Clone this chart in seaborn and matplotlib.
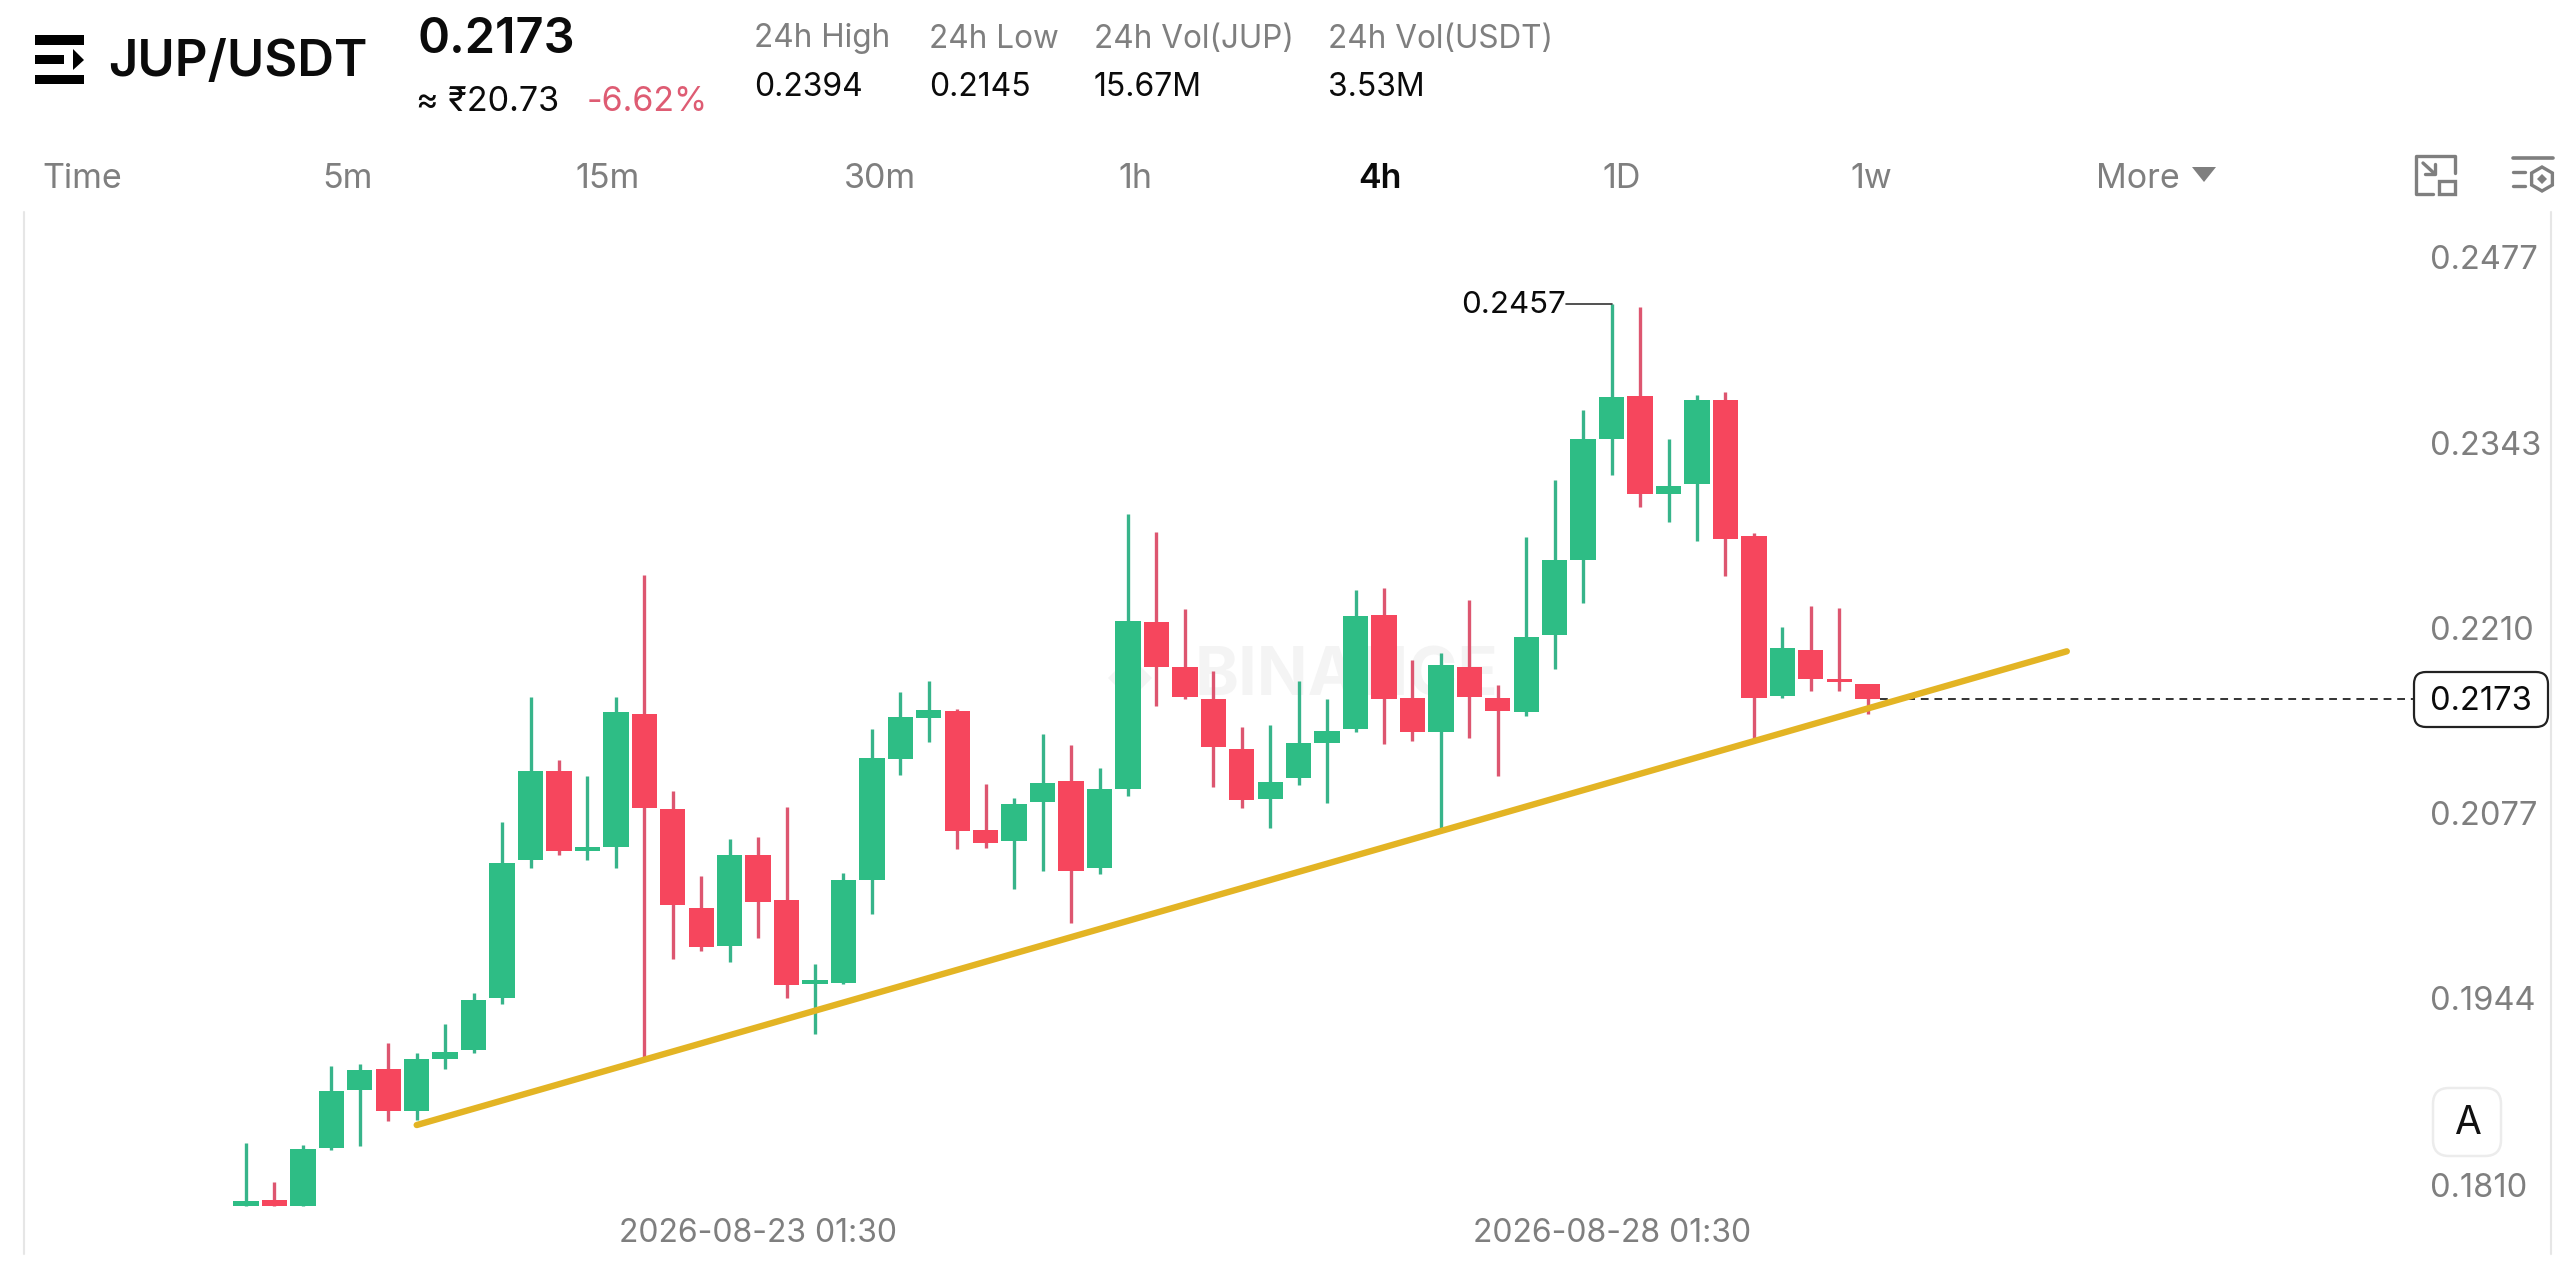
import matplotlib
matplotlib.use("Agg")
import matplotlib.pyplot as plt
from matplotlib.patches import FancyBboxPatch, Rectangle, Polygon, RegularPolygon
import numpy as np
import pandas as pd
import seaborn as sns

opens = [.18087,.18128,.18087,.18504,.18917,.19074,.18767,.19146,.19210,.19580,.20576,.21215,.20637,.20668,.21627,.20944,.20231,.19954,.20612,.20289,.19680,.19691,.20427,.21303,.21596,.21643,.20789,.20711,.20991,.21140,.20520,.21085,.22288,.21964,.21732,.21370,.21013,.21165,.21417,.21516,.22338,.21740,.21497,.21964,.21740,.21641,.22192,.22734,.23600,.23909,.23210,.23279,.23879,.22905,.21752,.22087,.21879,.21840]
highs = [.18538,.18258,.18521,.19094,.19105,.19257,.19185,.19395,.19616,.20845,.21749,.21295,.21176,.21749,.22623,.21074,.20460,.20723,.20742,.20955,.19829,.20482,.21519,.21784,.21865,.21663,.21121,.21021,.21483,.21400,.21239,.23060,.22930,.22376,.21931,.21530,.21544,.21862,.21732,.22517,.22528,.22014,.22064,.22445,.21834,.22894,.23306,.23810,.2457,.24554,.23605,.23918,.23937,.22925,.22250,.22399,.22388,.21840]
lows = [.18087,.18087,.18087,.18485,.18516,.18695,.18704,.19069,.19188,.19539,.20515,.20607,.20576,.20515,.19160,.19863,.19921,.19843,.20012,.19583,.19320,.19680,.20183,.21184,.21425,.20650,.20659,.20368,.20498,.20119,.20471,.21032,.21682,.21735,.21101,.20949,.20802,.21115,.20982,.21494,.21405,.21433,.20802,.21455,.21176,.21611,.21951,.22424,.23340,.23116,.23008,.22867,.22615,.21448,.21738,.21791,.21791,.21622]
closes = [.18120,.18087,.18493,.18914,.19063,.18767,.19143,.19196,.19567,.20551,.21215,.20637,.20665,.21638,.20950,.20247,.19951,.20612,.20275,.19672,.19708,.20432,.21306,.21602,.21654,.20783,.20700,.20979,.21129,.20498,.21087,.22296,.21959,.21746,.21386,.21004,.21137,.21419,.21500,.22327,.21735,.21497,.21975,.21748,.21646,.22181,.22734,.23600,.23901,.23210,.23265,.23879,.22886,.21741,.22098,.21874,.21851,.2173]
trend_index = [6, 64]
trend_price = [.18668, .22075]
axis_ticks = [0.2477, 0.2343, 0.2210, 0.2077, 0.1944, 0.1810]
axis_labels = ["0.2477", "0.2343", "0.2210", "0.2077", "0.1944", "0.1810"]
last_price = 0.2173
peak_price = 0.2457
peak_index = 48
date_labels = ["2026-08-23 01:30", "2026-08-28 01:30"]
date_index = [18, 48]
intervals = ["Time", "5m", "15m", "30m", "1h", "4h", "1D", "1w", "More"]
stats_head = ["24h High", "24h Low", "24h Vol(JUP)", "24h Vol(USDT)"]
stats_vals = ["0.2394", "0.2145", "15.67M", "3.53M"]

GREEN, RED, GOLD = "#2EBD85", "#F6465D", "#E3B424"
GREY, DARK = "#7f7f7f", "#0b0b0b"
W, H = 2560, 1284

sns.set_theme(style="white")
plt.rcParams["font.family"] = ["Inter", "Noto Sans", "DejaVu Sans"]

fig = plt.figure(figsize=(W / 100, H / 100), dpi=100, facecolor="white")
ov = fig.add_axes([0, 0, 1, 1], zorder=0)
ov.set_xlim(0, W); ov.set_ylim(H, 0); ov.axis("off")

L, T, B = 24, 212, 1254
ax = fig.add_axes([L / W, 1 - B / H, (W - L) / W, (B - T) / H], zorder=1)
ax.patch.set_alpha(0)

df = pd.DataFrame({"idx": np.arange(len(opens)), "o": opens, "h": highs, "l": lows, "c": closes})
df["up"] = df.c >= df.o
df["base"] = df[["o", "c"]].min(axis=1)
df["size"] = (df.c - df.o).abs()

ax.vlines(df.idx[df.up], df.l[df.up], df.h[df.up], color="#37B48A", lw=2.4, zorder=2)
ax.vlines(df.idx[~df.up], df.l[~df.up], df.h[~df.up], color="#DD5670", lw=2.4, zorder=2)
for flag, col in ((True, GREEN), (False, RED)):
    sub = df[df.up == flag]
    sns.barplot(data=sub, x="idx", y="size", bottom=sub["base"].to_numpy(), native_scale=True,
                color=col, saturation=1, width=0.89, errorbar=None, ax=ax, zorder=3, linewidth=0)

px_per_idx, x0_px = 28.45, 246
ax.set_xlim((L - x0_px) / px_per_idx, (W - x0_px) / px_per_idx)
v_per_px = 7.192e-5
ax.set_ylim(0.2477 - (B - 276.6) * v_per_px, 0.2477 - (T - 276.6) * v_per_px)
ax.axis("off")

sns.lineplot(x=trend_index, y=trend_price, color=GOLD, lw=4.6, ax=ax, zorder=5,
             solid_capstyle="round", legend=False, errorbar=None)

ax.plot([57.45, (2414 - x0_px) / px_per_idx], [last_price, last_price], color="#333333",
        lw=1.4, dashes=(4, 3), zorder=4)

def px_y(v):
    return 276.6 + (0.2477 - v) / v_per_px

def txt(x, y, s, size, color=DARK, weight="normal", ha="left", **kw):
    ov.text(x, y, s, fontsize=size, color=color, weight=weight, ha=ha, va="center", **kw)

# watermark
txt(1195, 678, "BINANCE", 48, color="#f4f4f4", weight="bold")
ov.add_patch(Polygon([(1108, 678), (1130, 656), (1152, 678), (1130, 700)], closed=True, fc="#f4f4f4", ec="none"))

# logo
ov.add_patch(Rectangle((35, 35), 49, 10, fc="black", ec="none"))
ov.add_patch(Rectangle((35, 55), 29, 9, fc="black", ec="none"))
ov.add_patch(Rectangle((35, 75), 49, 9, fc="black", ec="none"))
ov.add_patch(Polygon([(73, 49), (84, 60), (73, 70)], closed=True, fc="black", ec="none"))

# header
txt(108, 63, "JUP/USDT", 36.6, weight="semibold")
txt(418, 40, "0.2173", 35, weight="semibold")
txt(416, 102, "≈ ₹20.73", 24.6)
txt(587, 102, "-6.62%", 24.4, color="#DE5C73")
for x, h, v in zip((754, 929, 1094, 1328), stats_head, stats_vals):
    txt(x, 39, h, 22.7, color=GREY)
    txt(x, 88, v, 23)

for x, s in zip((42, 322, 575, 844, 1118, 1358, 1602, 1850, 2096), intervals):
    txt(x, 179, s, 24.5, color=DARK if s == "4h" else GREY, weight="semibold" if s == "4h" else "normal")
ov.add_patch(Polygon([(2192, 167), (2216, 167), (2204, 182)], closed=True, fc=GREY, ec="none"))

# toolbar icons
ov.plot([2455, 2455, 2416, 2416, 2433], [173, 156, 156, 194, 194], color=GREY, lw=2.4,
        solid_joinstyle="round")
ov.add_patch(Rectangle((2439, 181), 16, 13, fc="white", ec=GREY, lw=2.4))
ov.plot([2423, 2435], [163, 174], color=GREY, lw=2.4)
ov.plot([2435, 2435, 2425], [164, 174, 174], color=GREY, lw=2.4)
ov.plot([2513, 2553], [158, 158], color=GREY, lw=2.6)
ov.plot([2513, 2525], [172, 172], color=GREY, lw=2.4)
ov.plot([2513, 2525], [186, 186], color=GREY, lw=2.4)
ov.add_patch(RegularPolygon((2542, 179), 6, radius=12, fc="none", ec=GREY, lw=2.4))
ov.add_patch(RegularPolygon((2542, 179), 4, radius=5, fc=GREY, ec="none"))

# frame lines
ov.plot([24, 24], [T, B], color="#e6e6e6", lw=1.5)
ov.plot([2551, 2551], [T, B], color="#e6e6e6", lw=1.5)

# axis labels sit above their price levels
for v, s in zip(axis_ticks, axis_labels):
    txt(2430, px_y(v) - 16, s, 23.5, color=GREY)

tag = fig.add_axes([0, 0, 1, 1], zorder=2); tag.set_xlim(0, W); tag.set_ylim(H, 0); tag.axis("off")
tag.add_patch(FancyBboxPatch((2414, 672), 134, 55, boxstyle="round,pad=0,rounding_size=12",
                             fc="white", ec="#222222", lw=1.6))
tag.text(2430, 701, f"{last_price:.4f}", fontsize=23.5, color=DARK, va="center")

# auto button
tag.add_patch(FancyBboxPatch((2433, 1088), 68, 68, boxstyle="round,pad=0,rounding_size=16",
                             fc="white", ec="#ececec", lw=1.8))
tag.text(2467, 1123, "A", fontsize=28, color="#111111", ha="center", va="center")

# peak label
pk_x = x0_px + peak_index * px_per_idx
tag.plot([1566, pk_x], [px_y(peak_price)] * 2, color="#333333", lw=1.2)
tag.text(1461, px_y(peak_price) + 1, f"{peak_price:.4f}", fontsize=22.5, color=DARK, va="center")

# date labels
for i, s in zip(date_index, date_labels):
    tag.text(x0_px + i * px_per_idx, 1234, s, fontsize=23, color=GREY, ha="center", va="center")

fig.savefig("out.png", dpi=100, facecolor="white")
